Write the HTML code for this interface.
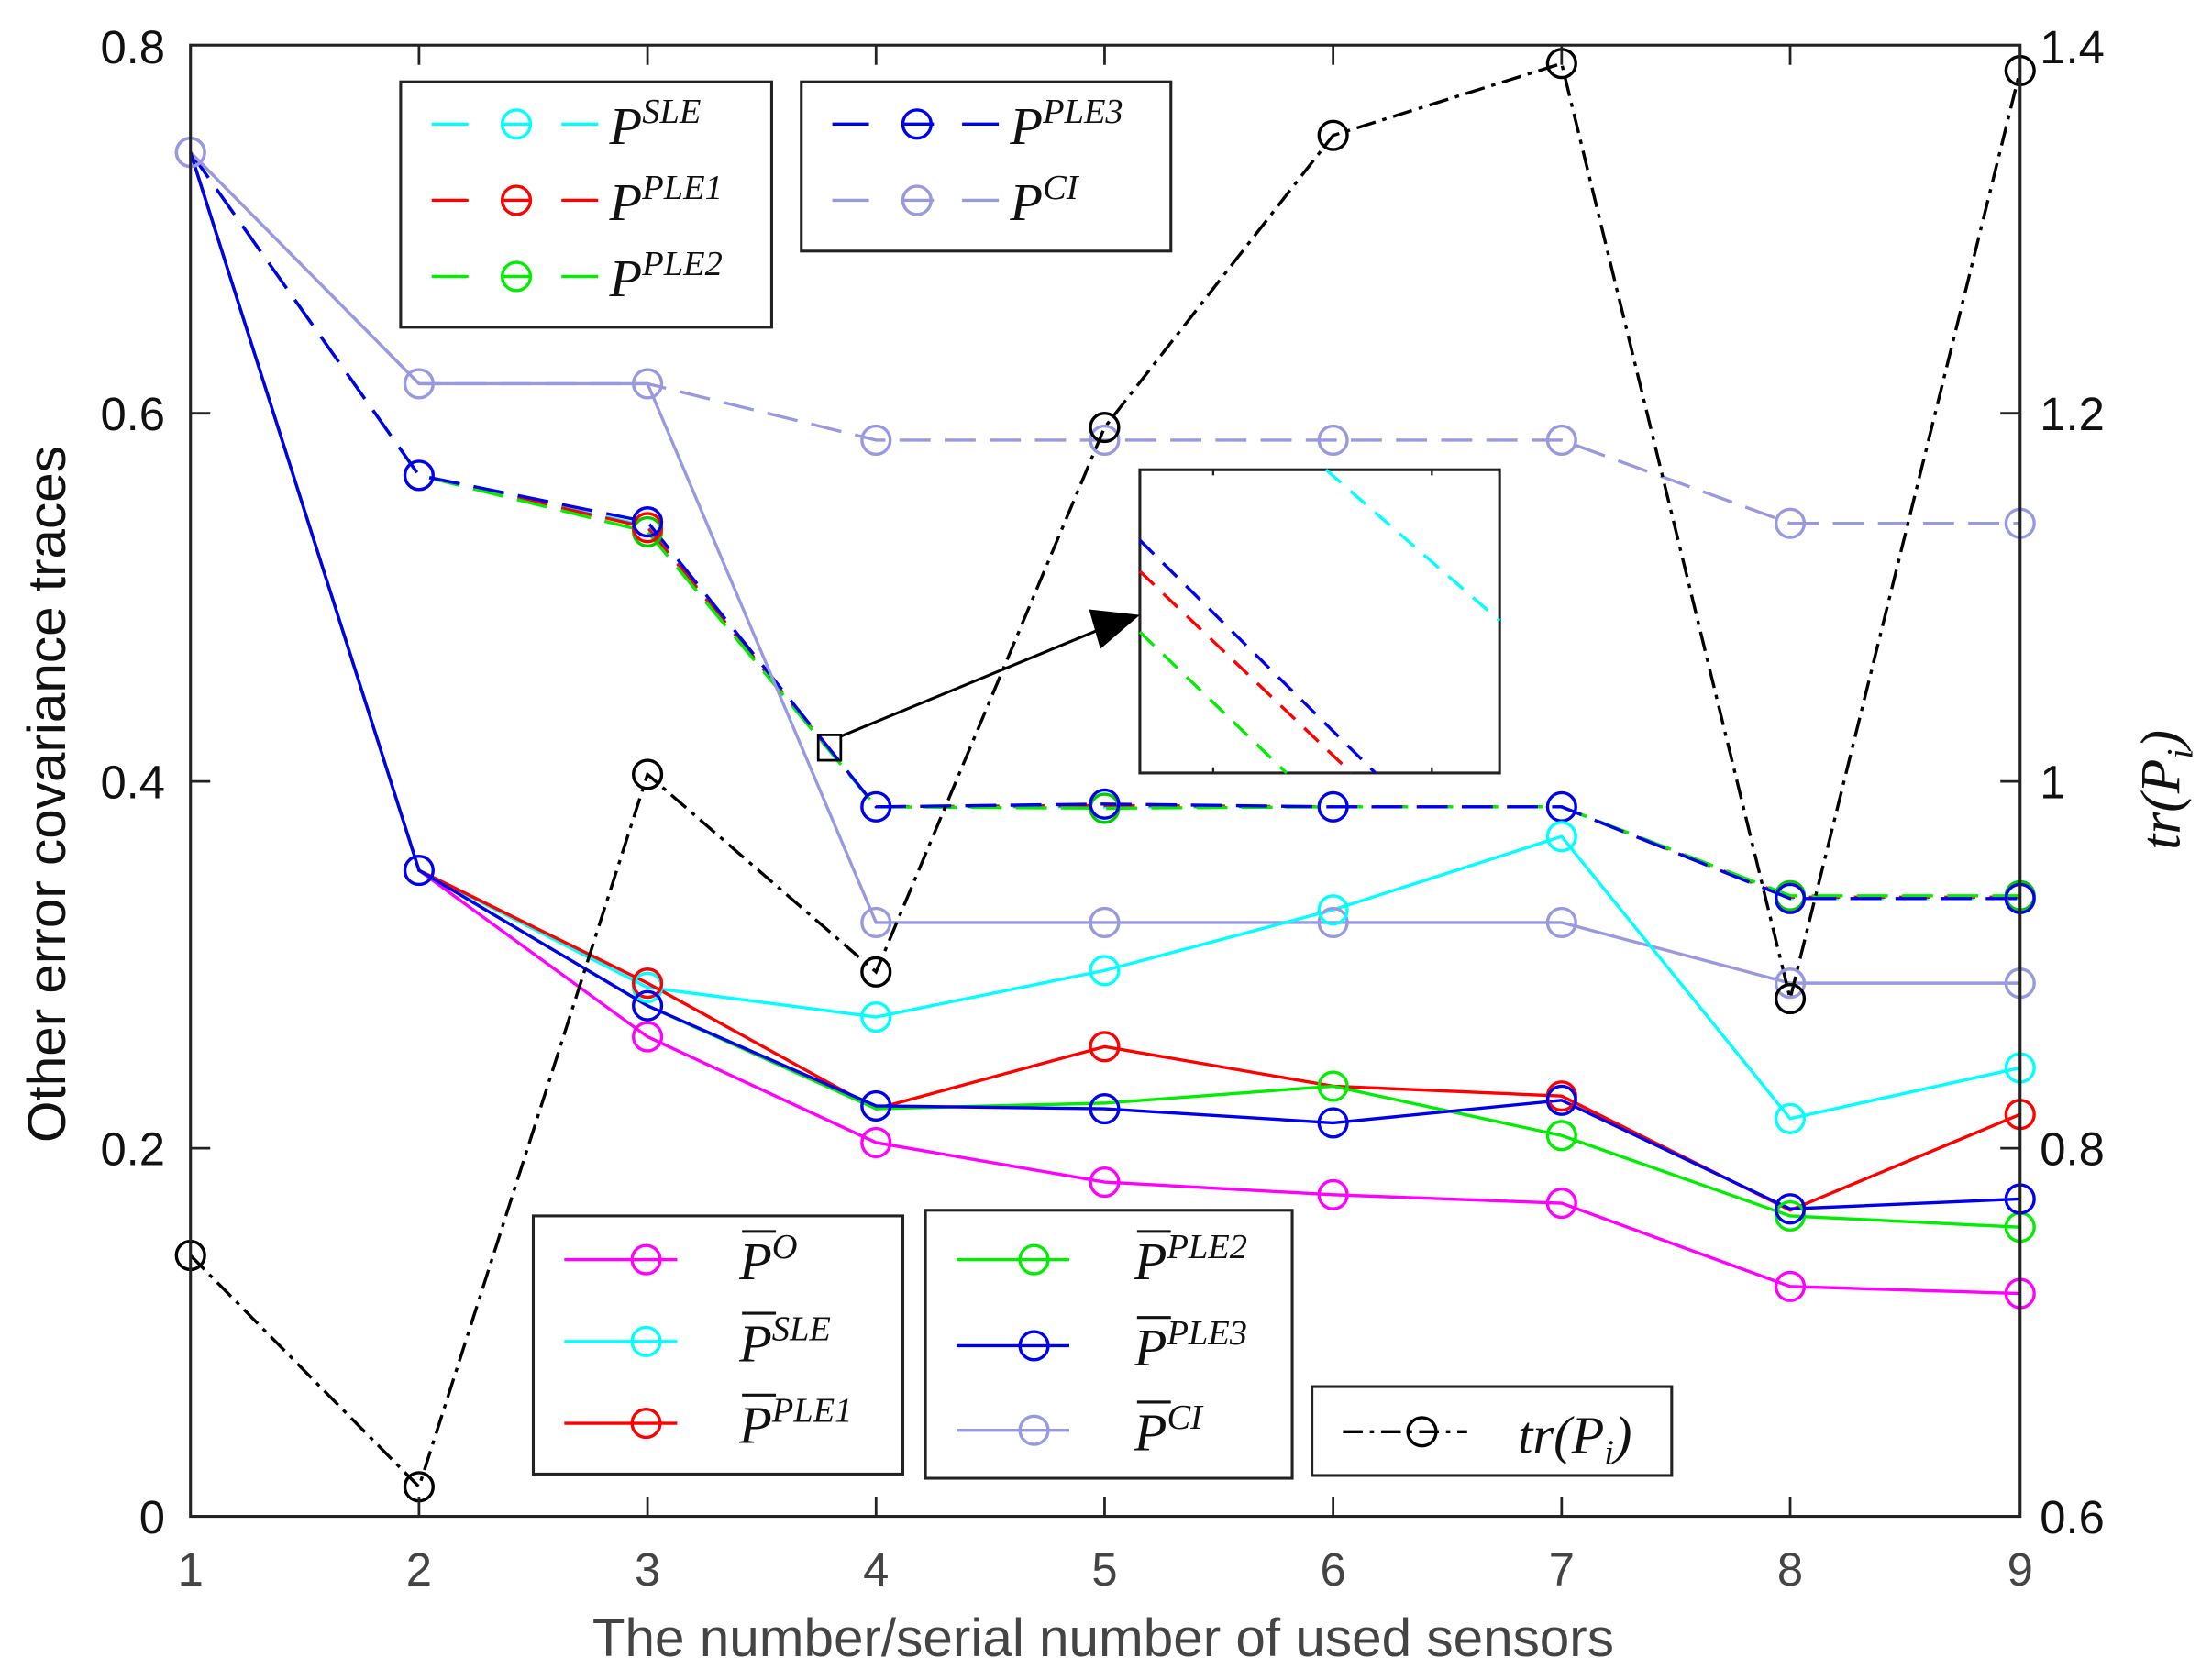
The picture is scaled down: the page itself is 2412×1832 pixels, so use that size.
<!DOCTYPE html>
<html><head><meta charset="utf-8"><style>
html,body{margin:0;padding:0;background:#fff;}
svg{display:block;}
text{font-family:"Liberation Sans",sans-serif;}
.m text, text.m{font-family:"Liberation Serif",serif;font-style:italic;}
</style></head><body>
<svg width="2412" height="1832" viewBox="0 0 1568 1191" xmlns="http://www.w3.org/2000/svg">
<rect width="1568" height="1191" fill="#fff"/>
<g fill="none" stroke-width="2.2">
<polyline stroke="#9999e0" stroke-dasharray="22,10" points="135,108 297,272 459,272 621,312 783,312 945,312 1107,312 1269,371 1432,371"/>
<polyline stroke="#00ffff" stroke-dasharray="22,10" points="135,108 297,337 459,373 621,572 783,572 945,572 1107,572 1269,637 1432,637"/>
<polyline stroke="#ff0000" stroke-dasharray="22,10" points="135,108 297,337 459,374 621,572 783,571 945,572 1107,572 1269,636 1432,636"/>
<polyline stroke="#00ee00" stroke-dasharray="22,10" points="135,108 297,337 459,377 621,572 783,573 945,572 1107,572 1269,635 1432,635"/>
<polyline stroke="#0000ee" stroke-dasharray="22,10" points="135,108 297,337 459,370 621,572 783,570 945,572 1107,572 1269,637 1432,637"/>
<polyline stroke="#9999e0" points="135,108 297,272 459,272 621,654 783,654 945,654 1107,654 1269,697 1432,697"/>
<polyline stroke="#ff00ff" points="135,108 297,617 459,735 621,810 783,838 945,847 1107,853 1269,912 1432,917"/>
<polyline stroke="#00ffff" points="135,108 297,617 459,700 621,721 783,688 945,645 1107,593 1269,793 1432,757"/>
<polyline stroke="#ff0000" points="135,108 297,617 459,697 621,786 783,742 945,770 1107,777 1269,858 1432,790"/>
<polyline stroke="#00ee00" points="135,108 297,617 459,713 621,786 783,782 945,770 1107,805 1269,862 1432,870"/>
<polyline stroke="#0000ee" points="135,108 297,617 459,713 621,784 783,786 945,796 1107,780 1269,857 1432,850"/>
<polyline stroke="#000" stroke-dasharray="14,5,3,5" points="135,890 297,1054 459,549 621,689 783,303 945,96 1107,45 1269,708 1432,50"/>
</g>
<g fill="none" stroke-width="2.2">
<g stroke="#9999e0"><circle cx="135" cy="108" r="10"/><circle cx="297" cy="272" r="10"/><circle cx="459" cy="272" r="10"/><circle cx="621" cy="312" r="10"/><circle cx="783" cy="312" r="10"/><circle cx="945" cy="312" r="10"/><circle cx="1107" cy="312" r="10"/><circle cx="1269" cy="371" r="10"/><circle cx="1432" cy="371" r="10"/>
<circle cx="621" cy="654" r="10"/><circle cx="783" cy="654" r="10"/><circle cx="945" cy="654" r="10"/><circle cx="1107" cy="654" r="10"/><circle cx="1269" cy="697" r="10"/><circle cx="1432" cy="697" r="10"/></g>
<g stroke="#00cc00"><circle cx="459" cy="377" r="10"/><circle cx="783" cy="573" r="10"/><circle cx="1269" cy="635" r="10"/><circle cx="1432" cy="635" r="10"/></g>
<g stroke="#ff0000"><circle cx="459" cy="374" r="10"/></g>
<g stroke="#0000ee"><circle cx="297" cy="337" r="10"/><circle cx="459" cy="370" r="10"/><circle cx="621" cy="572" r="10"/><circle cx="783" cy="570" r="10"/><circle cx="945" cy="572" r="10"/><circle cx="1107" cy="572" r="10"/><circle cx="1269" cy="637" r="10"/><circle cx="1432" cy="637" r="10"/></g>
<g stroke="#ff00ff"><circle cx="459" cy="735" r="10"/><circle cx="621" cy="810" r="10"/><circle cx="783" cy="838" r="10"/><circle cx="945" cy="847" r="10"/><circle cx="1107" cy="853" r="10"/><circle cx="1269" cy="912" r="10"/><circle cx="1432" cy="917" r="10"/></g>
<g stroke="#00ffff"><circle cx="459" cy="700" r="10"/><circle cx="621" cy="721" r="10"/><circle cx="783" cy="688" r="10"/><circle cx="945" cy="645" r="10"/><circle cx="1107" cy="593" r="10"/><circle cx="1269" cy="793" r="10"/><circle cx="1432" cy="757" r="10"/></g>
<g stroke="#ff0000"><circle cx="459" cy="697" r="10"/><circle cx="783" cy="742" r="10"/><circle cx="1107" cy="777" r="10"/><circle cx="1432" cy="790" r="10"/></g>
<g stroke="#00ee00"><circle cx="945" cy="770" r="10"/><circle cx="1107" cy="805" r="10"/><circle cx="1269" cy="862" r="10"/><circle cx="1432" cy="870" r="10"/></g>
<g stroke="#0000ee"><circle cx="297" cy="617" r="10"/><circle cx="459" cy="713" r="10"/><circle cx="621" cy="784" r="10"/><circle cx="783" cy="786" r="10"/><circle cx="945" cy="796" r="10"/><circle cx="1107" cy="780" r="10"/><circle cx="1269" cy="857" r="10"/><circle cx="1432" cy="850" r="10"/></g>
<g stroke="#9999e0"><circle cx="135" cy="108" r="10"/></g>
<g stroke="#000"><circle cx="135" cy="890" r="10"/><circle cx="297" cy="1054" r="10"/><circle cx="459" cy="549" r="10"/><circle cx="621" cy="689" r="10"/><circle cx="783" cy="303" r="10"/><circle cx="945" cy="96" r="10"/><circle cx="1107" cy="45" r="10"/><circle cx="1269" cy="708" r="10"/><circle cx="1432" cy="50" r="10"/></g>
</g>
<rect x="808" y="333" width="255" height="215" fill="#fff" stroke="#222" stroke-width="2"/>
<g stroke="#222" stroke-width="1.5"><path d="M860,333v4M1015,333v4M860,548v-4M1015,548v-4"/></g>
<g fill="none" stroke-width="2.2" stroke-dasharray="14,9">
<line x1="808" y1="383" x2="975" y2="548" stroke="#0000ee"/>
<line x1="808" y1="405" x2="958" y2="548" stroke="#ff0000"/>
<line x1="808" y1="448" x2="912" y2="548" stroke="#00ee00"/>
<line x1="940" y1="333" x2="1063" y2="440" stroke="#00ffff"/>
</g>
<rect x="580" y="521" width="16" height="18" fill="none" stroke="#000" stroke-width="1.8"/>
<line x1="596" y1="522" x2="785" y2="444" stroke="#000" stroke-width="2"/>
<polygon points="808,436 772,432 780,460" fill="#000"/>
<rect x="135" y="32" width="1297" height="1043" fill="none" stroke="#222" stroke-width="2"/>
<g stroke="#222" stroke-width="1.8">
<path d="M297,1075v-14M459,1075v-14M621,1075v-14M783,1075v-14M945,1075v-14M1107,1075v-14M1269,1075v-14M297,32v14M459,32v14M621,32v14M783,32v14M945,32v14M1107,32v14M1269,32v14"/>
<path d="M135,814h14M135,554h14M135,293h14M1432,814h-14M1432,554h-14M1432,293h-14"/>
</g>
<g font-size="33" fill="#111" text-anchor="end">
<text x="117" y="1087">0</text><text x="117" y="826">0.2</text><text x="117" y="566">0.4</text><text x="117" y="305">0.6</text><text x="117" y="45">0.8</text>
</g>
<g font-size="33" fill="#111">
<text x="1446" y="1087">0.6</text><text x="1446" y="826">0.8</text><text x="1446" y="566">1</text><text x="1446" y="305">1.2</text><text x="1446" y="45">1.4</text>
</g>
<g font-size="33" fill="#444" text-anchor="middle">
<text x="135" y="1124">1</text><text x="297" y="1124">2</text><text x="459" y="1124">3</text><text x="621" y="1124">4</text><text x="783" y="1124">5</text><text x="945" y="1124">6</text><text x="1107" y="1124">7</text><text x="1269" y="1124">8</text><text x="1432" y="1124">9</text>
</g>
<text x="782" y="1174" font-size="38" fill="#444" text-anchor="middle">The number/serial number of used sensors</text>
<text transform="translate(46,563) rotate(-90)" font-size="38" fill="#111" text-anchor="middle">Other error covariance traces</text>
<text transform="translate(1545,560) rotate(-90)" font-size="40" fill="#111" text-anchor="middle" class="m">tr(P<tspan font-size="26" dy="9">i</tspan><tspan dy="-9">)</tspan></text>
<g stroke="#222" stroke-width="2" fill="#fff">
<rect x="284" y="58" width="263" height="174"/><rect x="568" y="58" width="262" height="120"/>
<rect x="378" y="862" width="262" height="183"/><rect x="656" y="858" width="260" height="190"/>
<rect x="930" y="983" width="255" height="63"/>
</g>
<g fill="none" stroke-width="2.2">
<g stroke="#00ffff"><path d="M306,88h26M355,88h22M398,88h26"/><circle cx="366" cy="88" r="10"/></g>
<g stroke="#ff0000"><path d="M306,142h26M355,142h22M398,142h26"/><circle cx="366" cy="142" r="10"/></g>
<g stroke="#00ee00"><path d="M306,196h26M355,196h22M398,196h26"/><circle cx="366" cy="196" r="10"/></g>
<g stroke="#0000ee"><path d="M590,88h26M640,88h22M682,88h26"/><circle cx="650" cy="88" r="10"/></g>
<g stroke="#9999e0"><path d="M590,142h26M640,142h22M682,142h26"/><circle cx="650" cy="142" r="10"/></g>
<g stroke="#ff00ff"><path d="M400,893h80"/><circle cx="458" cy="893" r="10"/></g>
<g stroke="#00ffff"><path d="M400,951h80"/><circle cx="458" cy="951" r="10"/></g>
<g stroke="#ff0000"><path d="M400,1009h80"/><circle cx="458" cy="1009" r="10"/></g>
<g stroke="#00ee00"><path d="M678,893h80"/><circle cx="733" cy="893" r="10"/></g>
<g stroke="#0000ee"><path d="M678,954h80"/><circle cx="733" cy="954" r="10"/></g>
<g stroke="#9999e0"><path d="M678,1014h80"/><circle cx="733" cy="1014" r="10"/></g>
<g stroke="#000"><path d="M952,1015h88" stroke-dasharray="14,5,3,5"/><circle cx="1008" cy="1015" r="10"/></g>
</g>
<g class="m" font-size="38" fill="#111">
<text x="432" y="102">P<tspan font-size="25" dy="-15">SLE</tspan></text>
<text x="432" y="156">P<tspan font-size="25" dy="-15">PLE1</tspan></text>
<text x="432" y="210">P<tspan font-size="25" dy="-15">PLE2</tspan></text>
<text x="716" y="102">P<tspan font-size="25" dy="-15">PLE3</tspan></text>
<text x="716" y="156">P<tspan font-size="25" dy="-15">CI</tspan></text>
<text x="524" y="907">P<tspan font-size="25" dy="-15">O</tspan></text>
<text x="524" y="965">P<tspan font-size="25" dy="-15">SLE</tspan></text>
<text x="524" y="1023">P<tspan font-size="25" dy="-15">PLE1</tspan></text>
<text x="804" y="907">P<tspan font-size="25" dy="-15">PLE2</tspan></text>
<text x="804" y="968">P<tspan font-size="25" dy="-15">PLE3</tspan></text>
<text x="804" y="1028">P<tspan font-size="25" dy="-15">CI</tspan></text>
<text x="1076" y="1030">tr(P<tspan font-size="25" dy="8">i</tspan><tspan dy="-8">)</tspan></text>
</g>
<g stroke="#111" stroke-width="2"><path d="M526,873h24M526,931h24M526,989h24M806,873h24M806,934h24M806,994h24"/></g>
</svg>
</body></html>
